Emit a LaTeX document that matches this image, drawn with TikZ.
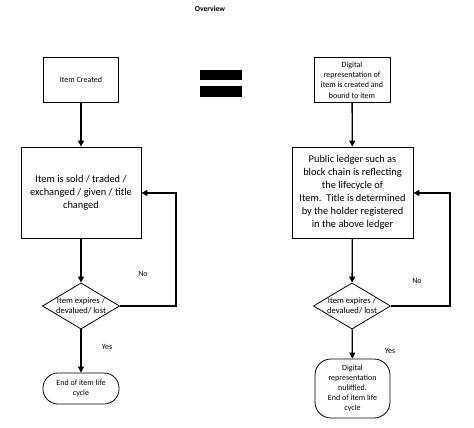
\documentclass[tikz,border=0pt]{standalone}
\usepackage{fontspec}
\setmainfont{Carlito}
\usetikzlibrary{shapes.geometric,arrows.meta}
\begin{document}
\begin{tikzpicture}[x=1pt,y=-1pt,
  box/.style={draw,line width=0.8pt,align=center,inner sep=0pt},
  smalltxt/.style={font=\fontsize{8}{10.2}\selectfont},
  bigtxt/.style={font=\fontsize{10.4}{13}\selectfont},
  dec/.style={draw,diamond,line width=0.8pt,aspect=1.67,inner sep=0pt,minimum width=75pt,minimum height=45pt,align=center,font=\fontsize{8.6}{10}\selectfont},
  term/.style={draw,line width=0.8pt,align=center,inner sep=0pt,font=\fontsize{8}{10}\selectfont},
  arr/.style={line width=1.3pt,-{Triangle[length=6pt,width=6pt]}},
  lbl/.style={font=\fontsize{8}{10}\selectfont}]
\useasboundingbox (0,0) rectangle (474,428);
\node[font=\bfseries\fontsize{7.6}{9}\selectfont] (title) at (210,9) {Overview};
% left column
\node[box,smalltxt,minimum width=75pt,minimum height=45pt] (lc) at (81,80) {Item Created};
\node[box,bigtxt,minimum width=120pt,minimum height=91pt] (lb) at (81,192.5) {Item is sold / traded /\\exchanged / given / title\\changed};
\node[dec] (ld) at (81,306) {Item expires /\\devalued/ lost};
\node[term,minimum width=76pt,minimum height=31pt,rounded corners=15pt] (lt) at (81,388.5) {End of item life\\cycle};
\draw[arr] (lc) -- (lb);
\draw[arr] (lb) -- (ld);
\draw[arr] (ld) -- (lt);
\coordinate (lr1) at (176,306);
\coordinate (lr2) at (176,193);
\draw[arr] (ld.east) -- (lr1) -- (lr2) -- (lb.east |- lr2);
\node[lbl] (lno) at (143,274) {No};
\node[lbl] (lyes) at (107,347) {Yes};
% equals
\fill (200,70) rectangle (242,80.5);
\fill (200,86) rectangle (242,96.5);
% right column
\node[box,smalltxt,minimum width=76pt,minimum height=45pt] (rc) at (352,80) {Digital\\representation of\\item is created and\\bound to item};
\node[box,bigtxt,minimum width=121pt,minimum height=91pt] (rb) at (352.5,192.5) {Public ledger such as\\block chain is reflecting\\the lifecycle of\\Item.\ \ Title is determined\\by the holder registered\\in the above ledger};
\node[dec] (rd) at (352,306) {Item expires /\\devalued/ lost};
\node[term,minimum width=75pt,minimum height=59pt,rounded corners=16pt] (rt) at (352.5,388.5) {Digital\\representation\\nuliffied.\\End of item life\\cycle};
\draw[arr] (rc) -- (rb);
\draw[arr] (rb) -- (rd);
\draw[arr] (rd) -- (rt);
\coordinate (rr1) at (450,306);
\coordinate (rr2) at (450,193);
\draw[arr] (rd.east) -- (rr1) -- (rr2) -- (rb.east |- rr2);
\node[lbl] (rno) at (417,281) {No};
\node[lbl] (ryes) at (390,351) {Yes};
\end{tikzpicture}
\end{document}
